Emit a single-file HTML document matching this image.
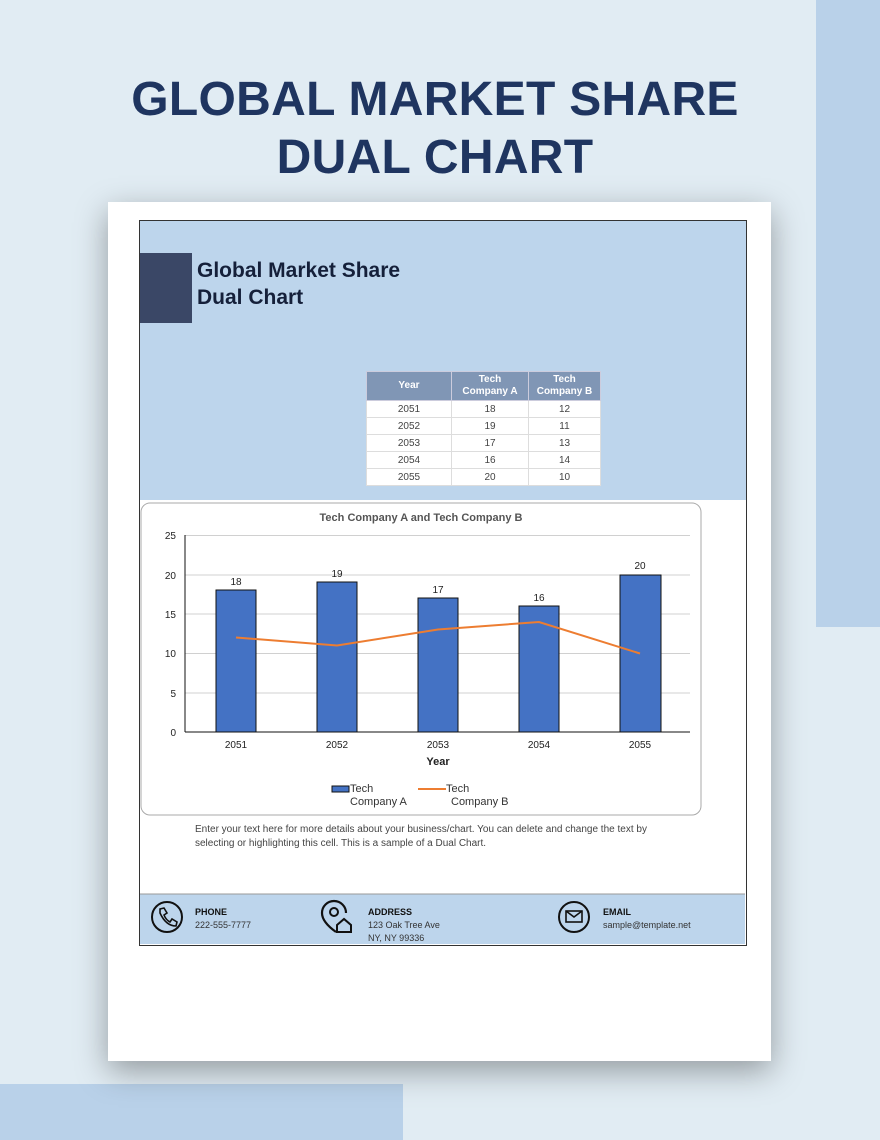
<!DOCTYPE html>
<html><head><style>
body{margin:0;width:880px;height:1140px;background:#e1ecf3;position:relative;overflow:hidden;font-family:"Liberation Sans",sans-serif;}
.a{position:absolute;}
h1{position:absolute;left:0;width:870px;top:71px;margin:0;text-align:center;font-size:48px;line-height:58px;font-weight:bold;color:#1f3560;letter-spacing:0.3px;}
table{border-collapse:collapse;font-size:10px;color:#444;}
td{border:1px solid #ddd;text-align:center;height:16px;padding:0;background:#fff;}
th{background:#8096b5;color:#fff;font-size:10px;border:1px solid #ccd;height:28px;line-height:12px;padding:0;}
.ft{font-size:9px;color:#333;line-height:13px;}
.ft b{font-size:9px;color:#111;}
</style></head><body>
<div class="a" style="left:816px;top:0;width:64px;height:627px;background:#b9d1e9"></div>
<div class="a" style="left:0;top:1084px;width:403px;height:56px;background:#b9d1e9"></div>
<h1>GLOBAL MARKET SHARE<br>DUAL CHART</h1>
<div class="a" style="left:108px;top:202px;width:663px;height:859px;background:#fff;box-shadow:0 10px 30px rgba(0,0,0,0.35)"></div>
<div class="a" style="left:139px;top:220px;width:606px;height:724px;border:1px solid #333;background:#fff"></div>
<div class="a" style="left:140px;top:221px;width:606px;height:279px;background:#bdd5ec"></div>
<div class="a" style="left:140px;top:253px;width:52px;height:70px;background:#3a4766"></div>
<div class="a" style="left:197px;top:257px;font-size:21px;font-weight:bold;line-height:27px;color:#15203a">Global Market Share<br>Dual Chart</div>
<table class="a" style="left:366px;top:371px;width:235px">
<tr><th style="width:84px">Year</th><th style="width:76px">Tech<br>Company A</th><th>Tech<br>Company B</th></tr>
<tr><td>2051</td><td>18</td><td>12</td></tr>
<tr><td>2052</td><td>19</td><td>11</td></tr>
<tr><td>2053</td><td>17</td><td>13</td></tr>
<tr><td>2054</td><td>16</td><td>14</td></tr>
<tr><td>2055</td><td>20</td><td>10</td></tr>
</table>
<svg class="a" style="left:0;top:0" width="880" height="1140" font-family="Liberation Sans, sans-serif">
<rect x="141" y="503" width="560" height="312" rx="9" fill="#fff" stroke="#aaa"/>
<text x="421" y="521" text-anchor="middle" font-size="11" font-weight="bold" fill="#555">Tech Company A and Tech Company B</text>
<g stroke="#d0d0d0"><line x1="185" x2="690" y1="535.5" y2="535.5"/><line x1="185" x2="690" y1="575" y2="575"/><line x1="185" x2="690" y1="614" y2="614"/><line x1="185" x2="690" y1="653.5" y2="653.5"/><line x1="185" x2="690" y1="693" y2="693"/></g>
<g font-size="10" fill="#222" text-anchor="end"><text x="176" y="539">25</text><text x="176" y="579">20</text><text x="176" y="618">15</text><text x="176" y="657">10</text><text x="176" y="697">5</text><text x="176" y="736">0</text></g>
<g fill="#4472c4" stroke="#111"><rect x="216" y="590" width="40" height="142"/><rect x="317" y="582" width="40" height="150"/><rect x="418" y="598" width="40" height="134"/><rect x="519" y="606" width="40" height="126"/><rect x="620" y="575" width="41" height="157"/></g>
<line x1="185" y1="535" x2="185" y2="732" stroke="#111"/><line x1="185" y1="732" x2="690" y2="732" stroke="#111"/>
<polyline points="236,637.5 337,645.5 438,629.5 539,622 640,653.5" fill="none" stroke="#ed7d31" stroke-width="2"/>
<g font-size="10" fill="#222" text-anchor="middle"><text x="236" y="585">18</text><text x="337" y="577">19</text><text x="438" y="593">17</text><text x="539" y="601">16</text><text x="640" y="569">20</text>
<text x="236" y="748">2051</text><text x="337" y="748">2052</text><text x="438" y="748">2053</text><text x="539" y="748">2054</text><text x="640" y="748">2055</text></g>
<text x="438" y="765" text-anchor="middle" font-size="11" font-weight="bold" fill="#222">Year</text>
<rect x="332" y="786" width="17" height="6" fill="#4472c4" stroke="#111"/>
<text x="350" y="792" font-size="11" fill="#333">Tech</text><text x="350" y="805" font-size="11" fill="#333">Company A</text>
<line x1="418" y1="789" x2="446" y2="789" stroke="#ed7d31" stroke-width="2"/>
<text x="446" y="792" font-size="11" fill="#333">Tech</text><text x="451" y="805" font-size="11" fill="#333">Company B</text>
<text x="195" y="832" font-size="10" fill="#444">Enter your text here for more details about your business/chart. You can delete and change the text by</text>
<text x="195" y="846" font-size="10" fill="#444">selecting or highlighting this cell. This is a sample of a Dual Chart.</text>
<rect x="140" y="894" width="605" height="50" fill="#bdd5ec"/>
<line x1="140" y1="894" x2="745" y2="894" stroke="#999"/>
<circle cx="167" cy="917" r="15" fill="none" stroke="#111" stroke-width="2"/>
<path d="M160 909 l4 -1 3 5 -3 2 q2 5 6 7 l2 -3 5 3 -1 4 q-10 0 -16 -13z" fill="none" stroke="#111" stroke-width="1.6"/>
<path d="M336 932 q-14 -10 -14 -19 a12 12 0 0 1 24 0" fill="none" stroke="#111" stroke-width="2.2"/>
<circle cx="334" cy="912" r="4" fill="none" stroke="#111" stroke-width="2"/>
<path d="M337 925 l7 -6 7 6 v7 h-14z" fill="none" stroke="#111" stroke-width="2"/>
<circle cx="574" cy="917" r="15" fill="none" stroke="#111" stroke-width="2"/>
<rect x="566" y="911" width="16" height="11" fill="none" stroke="#111" stroke-width="1.6"/><path d="M566 911 l8 6 8 -6" fill="none" stroke="#111" stroke-width="1.6"/>
</svg>
<div class="a ft" style="left:195px;top:906px"><b>PHONE</b><br>222-555-7777</div>
<div class="a ft" style="left:368px;top:906px"><b>ADDRESS</b><br>123 Oak Tree Ave<br>NY, NY 99336</div>
<div class="a ft" style="left:603px;top:906px"><b>EMAIL</b><br>sample@template.net</div>
</body></html>
